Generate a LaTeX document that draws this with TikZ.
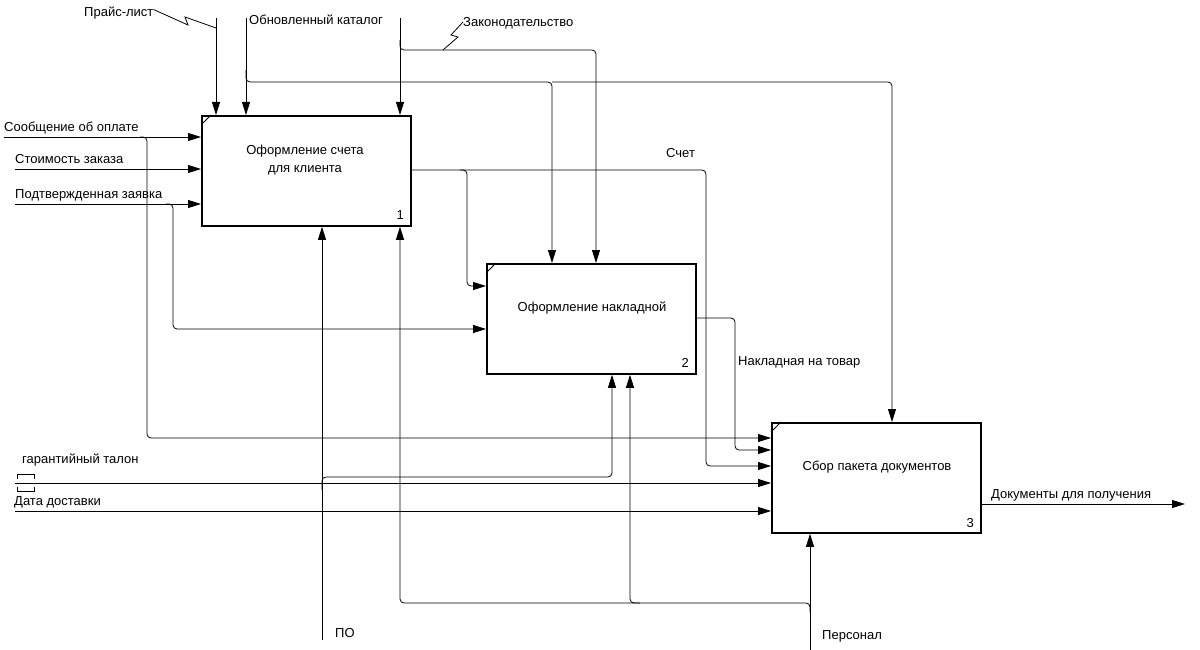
\documentclass[tikz,border=0pt]{standalone}
\usepackage{fontspec}
\setmainfont{Liberation Sans}
\usetikzlibrary{arrows.meta}
\begin{document}
\begin{tikzpicture}[x=1pt,y=-1pt,
  box/.style={draw,line width=1.8pt,minimum width=209pt,minimum height=110pt,inner sep=0,anchor=north west,align=center},
  arr/.style={line width=0.8pt,rounded corners=4pt,-{Triangle[length=13pt,width=8pt]}},
  ln/.style={line width=0.8pt,rounded corners=4pt},
  lbl/.style={font=\fontsize{13}{15}\selectfont,inner sep=0,anchor=base west}]
\useasboundingbox (0,0) rectangle (1200,650);
\node[box] (b1) at (201,115) {};
\node[box] (b2) at (486,263) {};
\node[box] (b3) at (771,422) {};
\node[lbl,anchor=base] at (305,155) {Оформление счета};
\node[lbl,anchor=base] at (305,173) {для клиента};
\node[lbl,anchor=base] at (592,311) {Оформление накладной};
\node[lbl,anchor=base] at (877,470) {Сбор пакета документов};
\node[lbl,anchor=base east] at (404,219) {1};
\node[lbl,anchor=base east] at (689,367) {2};
\node[lbl,anchor=base east] at (974,527) {3};
\foreach \b in {b1,b2,b3} \draw[line width=1pt] ([yshift=-10pt]\b.north west) -- ([xshift=10pt]\b.north west);
% top sources
\coordinate (tp) at (216,18); \coordinate (tk) at (246,18); \coordinate (tz) at (400,18);
\draw[arr] (tp) -- (tp |- b1.north);
\draw[arr] (tk) -- (tk |- b1.north);
\draw[arr] (tz) -- (tz |- b1.north);
\draw[arr] (246,70) |- (552,82) -- (552,82 |- b2.north);
\draw[arr] (552,82) -| (892,82 |- b3.north);
\draw[arr] (400,40) |- (596,50) -- (596,50 |- b2.north);
\node[lbl] (lp) at (84,17) {Прайс-лист};
\node[lbl] (lk) at (249,25) {Обновленный каталог};
\node[lbl] (lz) at (463,27) {Законодательство};
\draw[line width=0.8pt] (lp.east) ++(0,-4) -- (188,25) -- (185,17) -- (216,28);
\draw[line width=0.8pt] (463,22) -- (451,35) -- (458,37) -- (443,50);
% inputs box1
\coordinate (s1) at (4,137); \coordinate (s2) at (15,169); \coordinate (s3) at (15,204);
\draw[arr] (s1) -- (s1 -| b1.west);
\draw[arr] (s2) -- (s2 -| b1.west);
\draw[arr] (s3) -- (s3 -| b1.west);
\node[lbl] at (4,132) {Сообщение об оплате};
\node[lbl] at (15,164) {Стоимость заказа};
\node[lbl] at (15,198) {Подтвержденная заявка};
\draw[arr] (140,137) -| (147,438) -- (147,438 -| b3.west);
\draw[arr] (166,204) -| (173,329) -- (173,329 -| b2.west);
% output box1
\draw[arr] (b1.east |- 0,170) -| (467,286) -- (467,286 -| b2.west);
\draw[arr] (460,170) -| (706,466) -- (706,466 -| b3.west);
\node[lbl] at (666,158) {Счет};
% output box2
\draw[arr] (b2.east |- 0,318) -| (735,450) -- (735,450 -| b3.west);
\node[lbl] at (738,365) {Накладная на товар};
% other inputs box3
\coordinate (g) at (15,483); \coordinate (d) at (15,511);
\draw[arr] (g) -- (g -| b3.west);
\draw[arr] (d) -- (d -| b3.west);
\node[lbl] at (22,463) {гарантийный талон};
\node[lbl] at (14,505) {Дата доставки};
\draw[line width=0.8pt] (17,479) -- (17,474) -- (34,474) -- (34,479);
\draw[line width=0.8pt] (17,487) -- (17,491) -- (34,491) -- (34,487);
% output box3
\coordinate (out) at (1185,504);
\draw[arr] (b3.east |- out) -- (out);
\node[lbl] at (991,498) {Документы для получения};
% mechanisms
\coordinate (po) at (322,640);
\draw[arr] (po) -- (po |- b1.south);
\draw[arr] (322,490) |- (612,477) -- (612,477 |- b2.south);
\node[lbl] at (335,637) {ПО};
\coordinate (pe) at (810,650);
\draw[arr] (pe) -- (pe |- b3.south);
\draw[arr] (810,612) |- (400,603) -- (400,603 |- b1.south);
\draw[arr] (640,603) -| (630,603 |- b2.south);
\node[lbl] at (822,639) {Персонал};
\end{tikzpicture}
\end{document}
